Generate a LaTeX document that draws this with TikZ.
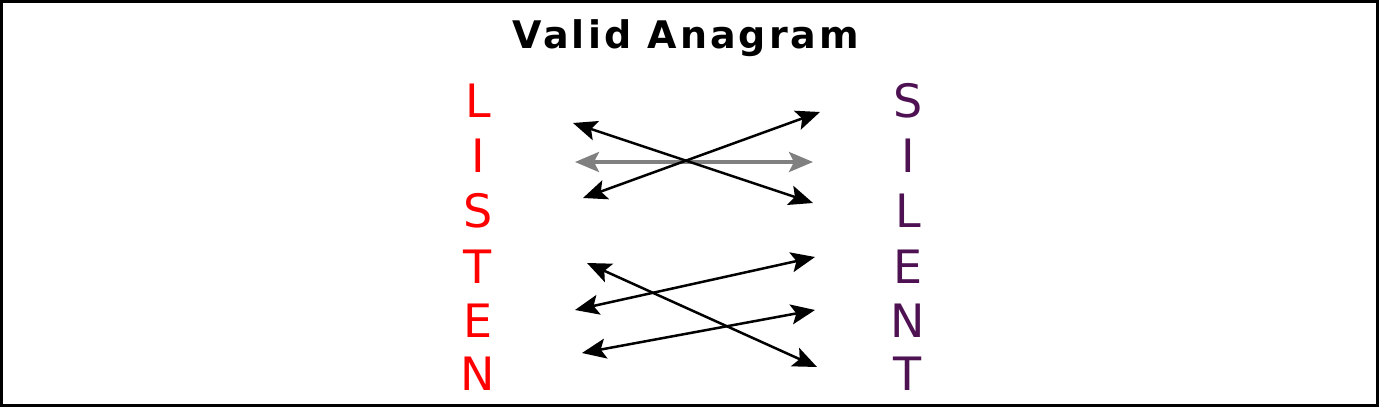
\documentclass[tikz,border=0pt]{standalone}
\usepackage{fontspec}
\setmainfont{DejaVu Sans}
\usetikzlibrary{arrows.meta}
\definecolor{listenred}{RGB}{255,0,0}
\definecolor{silentpurple}{RGB}{78,18,82}
\tikzset{
    every node/.style={inner sep=0pt, anchor=base, font=\fontsize{46}{46}\selectfont}
}
\tikzset{
    match/.style={line width=2.5pt, {Stealth[length=24pt,width=20pt,inset=5pt]}-{Stealth[length=24pt,width=20pt,inset=5pt]}}
}
\tikzset{
    straight/.style={match, draw=gray, line width=3.5pt}
}

\begin{document}
\begin{tikzpicture}[x=1pt, y=-1pt]
  \draw[line width=3pt] (1.5,1.5) rectangle (1377.5,405.5);
  \node (title) at (686,48) {\fontsize{38}{38}\selectfont\bfseries\addfontfeature{LetterSpace=8}Valid Anagram};

  \foreach \ch/\y [count=\i] in {L/117, I/172, S/227, T/283, E/337, N/390}
    \node[text=listenred] (l\i) at (478,\y) {\ch};
  \foreach \ch/\y [count=\i] in {S/117, I/172, L/227, E/283, N/337, T/390}
    \node[text=silentpurple] (r\i) at (908,\y) {\ch};

  \coordinate (lL) at (573,123); \coordinate (rL) at (813,203);
  \coordinate (lI) at (575,162); \coordinate (rI) at (813,162);
  \coordinate (lS) at (583,198); \coordinate (rS) at (820,112);
  \coordinate (lT) at (587,263); \coordinate (rT) at (817,367);
  \coordinate (lE) at (575,310); \coordinate (rE) at (815,257);
  \coordinate (lN) at (582,353); \coordinate (rN) at (815,310);

  \draw[straight] (lI) -- (rI);
  \draw[match] (lL) -- (rL); \draw[match] (lS) -- (rS);
  \draw[match] (lT) -- (rT); \draw[match] (lE) -- (rE);
  \draw[match] (lN) -- (rN);
\end{tikzpicture}
\end{document}
